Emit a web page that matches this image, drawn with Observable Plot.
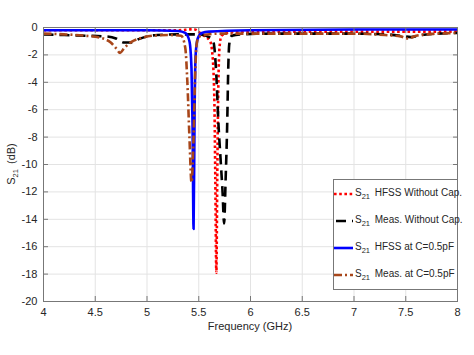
<!DOCTYPE html>
<html>
<head>
<meta charset="utf-8">
<script src="https://cdn.jsdelivr.net/npm/d3@7"></script>
<script src="https://cdn.jsdelivr.net/npm/@observablehq/plot@0.6"></script>
<style>
  html, body { margin: 0; padding: 0; background: #fff; }
  #wrap { position: relative; width: 474px; height: 355px; font-family: "Liberation Sans", Arial, sans-serif; color: #262626; }
  #ylab { position: absolute; left: 12px; top: 164px; transform: translate(-50%, -50%) rotate(-90deg); white-space: nowrap; font-size: 11px; }
  #xlab { position: absolute; left: 250px; top: 326px; transform: translate(-50%, -50%); white-space: nowrap; font-size: 11px; }
  #legend { position: absolute; left: 333px; top: 179px; width: 123px; height: 109px; border: 1px solid #777; background: #fff; font-size: 10px; }
  .row { position: absolute; left: 0; height: 16px; display: flex; align-items: center; white-space: nowrap; }
  .row svg { width: 19px; height: 6px; margin-right: 2px; }
  sub { font-size: 7.5px; vertical-align: -3px; margin: 0 2px 0 0; }
</style>
</head>
<body>
<div id="wrap">
  <div id="chart"></div>
  <div id="ylab"></div>
  <div id="xlab">Frequency (GHz)</div>
  <div id="legend"></div>
</div>
<script>
// ---- data ----
const seriesNames = ["HFSS Without Cap.", "Meas. Without Cap.", "HFSS at C=0.5pF", "Meas. at C=0.5pF"];
const xTicks = [4, 4.5, 5, 5.5, 6, 6.5, 7, 7.5, 8];
const yTicks = [0, -2, -4, -6, -8, -10, -12, -14, -16, -18, -20];

// S21 HFSS without capacitor
const fHfssNoCap  = [4, 4.5, 5, 5.3, 5.4, 5.45, 5.48, 5.52, 5.57, 5.61, 5.63, 5.65, 5.66, 5.67, 5.68, 5.69, 5.70, 5.72, 5.8, 6, 6.5, 7, 7.5, 8];
const dbHfssNoCap = [-0.2, -0.2, -0.2, -0.2, -0.15, -0.12, -0.2, -0.45, -0.7, -1.0, -1.8, -5, -11, -17.9, -10, -4, -1.5, -0.6, -0.35, -0.3, -0.3, -0.3, -0.3, -0.3];

// S21 measured without capacitor
const fMeasNoCap  = [4, 4.2, 4.4, 4.6, 4.7, 4.78, 4.85, 4.92, 5.0, 5.1, 5.3, 5.5, 5.6, 5.64, 5.67, 5.69, 5.71, 5.73, 5.745, 5.76, 5.775, 5.785, 5.795, 5.82, 5.9, 6.2, 6.6, 7, 7.3, 7.45, 7.55, 7.65, 7.8, 8];
const dbMeasNoCap = [-0.5, -0.55, -0.6, -0.65, -0.8, -1.1, -1.1, -0.85, -0.65, -0.55, -0.5, -0.5, -0.7, -1.0, -3.5, -7, -9.5, -12, -14.3, -11, -7, -3, -1.2, -0.6, -0.5, -0.45, -0.45, -0.45, -0.5, -0.6, -0.7, -0.55, -0.45, -0.4];

// S21 HFSS with C = 0.5 pF
const fHfssCap  = [4, 4.5, 5, 5.3, 5.37, 5.41, 5.43, 5.44, 5.45, 5.46, 5.47, 5.49, 5.53, 5.6, 6, 7, 8];
const dbHfssCap = [-0.2, -0.2, -0.2, -0.25, -0.4, -1, -3, -7, -14.7, -6, -2, -0.8, -0.4, -0.3, -0.2, -0.15, -0.15];

// S21 measured with C = 0.5 pF
const fMeasCap  = [4, 4.2, 4.4, 4.55, 4.65, 4.7, 4.74, 4.78, 4.85, 4.95, 5.05, 5.2, 5.33, 5.37, 5.39, 5.41, 5.43, 5.45, 5.465, 5.48, 5.5, 5.55, 5.7, 6, 6.5, 7, 7.3, 7.45, 7.52, 7.6, 7.8, 8];
const dbMeasCap = [-0.45, -0.5, -0.6, -0.75, -1.1, -1.5, -1.85, -1.5, -1.05, -0.75, -0.6, -0.55, -0.6, -1.5, -4, -8, -11.3, -8, -3.5, -1.2, -0.7, -0.55, -0.45, -0.45, -0.45, -0.45, -0.55, -0.65, -0.8, -0.6, -0.45, -0.4];

// ---- styles ----
const styles = [
  {stroke: "#ff0000", dash: "2.6,2.6", width: 2.6},
  {stroke: "#000000", dash: "10,6", width: 2.6},
  {stroke: "#0000ff", dash: null, width: 2.6},
  {stroke: "#a8461a", dash: "8,3,2,3", width: 2.6}
];

const toRows = (fs, ds) => fs.map((f, i) => ({f, db: ds[i]}));
const series = [
  toRows(fHfssNoCap, dbHfssNoCap),
  toRows(fMeasNoCap, dbMeasNoCap),
  toRows(fHfssCap, dbHfssCap),
  toRows(fMeasCap, dbMeasCap)
];

const chart = Plot.plot({
  width: 474,
  height: 355,
  marginLeft: 43,
  marginRight: 17,
  marginTop: 27,
  marginBottom: 54,
  style: {fontFamily: "'Liberation Sans', Arial, sans-serif", fontSize: "11px", color: "#262626", background: "#fff"},
  x: {domain: [4, 8]},
  y: {domain: [-20, 0]},
  marks: [
    Plot.gridX(xTicks, {stroke: "#e3e3e3", strokeOpacity: 1}),
    Plot.gridY(yTicks, {stroke: "#e3e3e3", strokeOpacity: 1}),
    ...series.map((rows, i) => Plot.line(rows, {
      x: "f", y: "db", curve: "monotone-x",
      stroke: styles[i].stroke, strokeWidth: styles[i].width,
      strokeDasharray: styles[i].dash, strokeLinecap: "butt", strokeLinejoin: "round"
    })),
    Plot.frame({stroke: "#777", strokeWidth: 1}),
    Plot.axisX(xTicks, {tickSize: -5, tickPadding: 12, stroke: "#777", label: null, tickFormat: d => String(d)}),
    Plot.axisX(xTicks, {anchor: "top", tickSize: -5, stroke: "#777", tickFormat: () => "", label: null}),
    Plot.axisY(yTicks, {tickSize: -5, tickPadding: 11, stroke: "#777", label: null, tickFormat: d => String(d)}),
    Plot.axisY(yTicks, {anchor: "right", tickSize: -5, stroke: "#777", tickFormat: () => "", label: null})
  ]
});
document.getElementById("chart").appendChild(chart);

// y label with subscript
document.getElementById("ylab").innerHTML = "S<sub>21</sub> (dB)";

// legend
const legend = document.getElementById("legend");
const rowTops = [6, 33, 60, 87];
seriesNames.forEach((name, i) => {
  const s = styles[i];
  const row = document.createElement("div");
  row.className = "row";
  row.style.top = rowTops[i] + "px";
  const dashAttr = s.dash ? `stroke-dasharray="${s.dash}"` : "";
  const offset = i === 1 ? `stroke-dashoffset="-2"` : "";
  row.innerHTML = `<svg viewBox="0 0 19 6"><line x1="0" y1="3" x2="19" y2="3" stroke="${s.stroke}" stroke-width="${s.width}" ${dashAttr} ${offset}/></svg><span>S<sub>21</sub> ${name}</span>`;
  legend.appendChild(row);
});
</script>
</body>
</html>
